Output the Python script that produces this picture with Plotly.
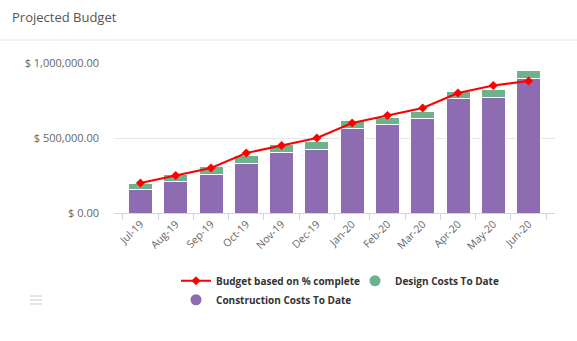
import plotly.graph_objects as go

months = ["Jul-19", "Aug-19", "Sep-19", "Oct-19", "Nov-19", "Dec-19",
          "Jan-20", "Feb-20", "Mar-20", "Apr-20", "May-20", "Jun-20"]
construction = [160000, 213000, 260000, 333000, 402000, 422000,
                566000, 589000, 627000, 764000, 769000, 898000]
design = [40000, 42000, 49000, 51000, 53000, 53000,
          48000, 48000, 48000, 47000, 55000, 53000]
budget = [200000, 250000, 300000, 400000, 450000, 500000,
          600000, 650000, 700000, 800000, 850000, 880000]

PURPLE = "#8e6cb1"
GREEN = "#6cb28c"
FONT = "Open Sans"

fig = go.Figure()
fig.add_trace(go.Bar(x=months, y=construction, name="Construction Costs To Date",
                     marker=dict(color=PURPLE, line=dict(color="#ffffff", width=1)),
                     showlegend=False))
fig.add_trace(go.Bar(x=months, y=design, name="Design Costs To Date",
                     marker=dict(color=GREEN, line=dict(color="#ffffff", width=1)),
                     showlegend=False))
fig.add_trace(go.Scatter(x=months, y=budget, name="Budget based on % complete",
                         mode="lines+markers",
                         line=dict(color="#ff0000", width=2),
                         marker=dict(symbol="diamond", size=7, color="#ff0000"),
                         legendrank=1))
# legend entries with round symbols for the bar series
fig.add_trace(go.Scatter(x=[None], y=[None], mode="markers", name="Design Costs To Date",
                         marker=dict(symbol="circle", size=11, color=GREEN),
                         legendrank=2))
fig.add_trace(go.Scatter(x=[None], y=[None], mode="markers", name="Construction Costs To Date",
                         marker=dict(symbol="circle", size=11, color=PURPLE),
                         legendrank=3))

fig.update_layout(
    width=577, height=341,
    barmode="stack", bargap=0.32,
    plot_bgcolor="#ffffff", paper_bgcolor="#ffffff",
    margin=dict(l=114, r=22, t=63, b=128, autoexpand=False),
    font=dict(family=FONT, color="#666666"),
    title=dict(text="Projected Budget", x=0, xref="container", xanchor="left",
               y=1, yref="container", yanchor="top",
               pad=dict(l=12, t=13),
               font=dict(family=FONT, size=13, color="#555555")),
    showlegend=True,
    legend=dict(orientation="h", x=0.1406, xanchor="left", y=-0.355, yanchor="top",
                entrywidth=134, entrywidthmode="pixels",
                traceorder="normal",
                font=dict(family=FONT, size=10, color="#333333", weight="bold"),
                itemwidth=30, tracegroupgap=0),
    xaxis=dict(type="category", tickangle=-45, showline=True, linecolor="#ccd6eb",
               ticks="outside", tickson="boundaries", ticklen=6, tickcolor="#ccd6eb",
               tickfont=dict(family=FONT, size=10.5, color="#666666"),
               showgrid=False, zeroline=False),
    yaxis=dict(range=[0, 1000000], dtick=500000, tickprefix="$ ", tickformat=",.2f",
               showgrid=True, gridcolor="#e6e6e6", zeroline=False,
               tickfont=dict(family=FONT, size=11, color="#666666"),
               ticks="", ticklabelstandoff=14),
)

# separator line under the title
fig.add_shape(type="line", xref="paper", yref="paper",
              x0=-114/441, x1=(577-114)/441, y0=(213-40)/150, y1=(213-40)/150,
              line=dict(color="#e6e6e6", width=1))
# export menu icon
for dy in (296, 300, 304):
    yp = (213 - dy) / 150
    fig.add_shape(type="line", xref="paper", yref="paper",
                  x0=(30-114)/441, x1=(42-114)/441, y0=yp, y1=yp,
                  line=dict(color="#e6e6e6", width=2))

fig.write_html("out.html")
